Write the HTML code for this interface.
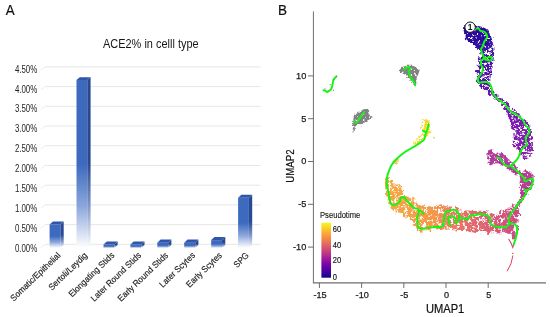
<!DOCTYPE html>
<html><head><meta charset="utf-8"><title>ACE2 figure</title>
<style>
html,body{margin:0;padding:0;background:#fff;}
body{width:550px;height:317px;overflow:hidden;}
svg{display:block;}
text{font-family:"Liberation Sans", Arial, sans-serif;}
</style></head><body>
<svg width="550" height="317" viewBox="0 0 550 317">
<defs>
<linearGradient id="gf" x1="0" y1="0" x2="0" y2="1">
<stop offset="0" stop-color="#3d6abf"/><stop offset="0.5" stop-color="#3d6abf"/>
<stop offset="0.75" stop-color="#8ba6dc"/><stop offset="1" stop-color="#ffffff"/>
</linearGradient>
<linearGradient id="gs" x1="0" y1="0" x2="0" y2="1">
<stop offset="0" stop-color="#294a92"/><stop offset="0.5" stop-color="#294a92"/>
<stop offset="0.75" stop-color="#7d95c8"/><stop offset="1" stop-color="#ffffff"/>
</linearGradient>
<linearGradient id="cbar" x1="0" y1="1" x2="0" y2="0"><stop offset="0.0" stop-color="#0d0887"/><stop offset="0.1" stop-color="#41049d"/><stop offset="0.2" stop-color="#6a00a8"/><stop offset="0.3" stop-color="#8f0da4"/><stop offset="0.4" stop-color="#b12a90"/><stop offset="0.5" stop-color="#cc4778"/><stop offset="0.6" stop-color="#e16462"/><stop offset="0.7" stop-color="#f2844b"/><stop offset="0.8" stop-color="#fca636"/><stop offset="0.9" stop-color="#fcce25"/><stop offset="1.0" stop-color="#f0f921"/></linearGradient>
<linearGradient id="band" gradientUnits="userSpaceOnUse" x1="385" y1="0" x2="525" y2="0">
<stop offset="0.000" stop-color="#f7a535"/><stop offset="0.179" stop-color="#f59a3c"/><stop offset="0.364" stop-color="#f2903f"/><stop offset="0.436" stop-color="#ec7d55"/><stop offset="0.536" stop-color="#e76b5d"/><stop offset="0.679" stop-color="#df5d68"/><stop offset="0.821" stop-color="#d24e74"/><stop offset="0.929" stop-color="#c8447c"/><stop offset="1.000" stop-color="#c0407f"/>
</linearGradient>
<linearGradient id="arm" gradientUnits="userSpaceOnUse" x1="0" y1="25" x2="0" y2="160">
<stop offset="0" stop-color="#28089a"/><stop offset="0.2" stop-color="#34089e"/>
<stop offset="0.4" stop-color="#4a08a6"/><stop offset="0.6" stop-color="#6a0cac"/>
<stop offset="0.85" stop-color="#7a12aa"/><stop offset="1" stop-color="#8a18a4"/>
</linearGradient>
<filter id="speck" filterUnits="userSpaceOnUse" x="340" y="15" width="210" height="265" color-interpolation-filters="sRGB">
<feTurbulence type="fractalNoise" baseFrequency="0.3" numOctaves="2" seed="3" result="d"/>
<feDisplacementMap in="SourceGraphic" in2="d" scale="4" xChannelSelector="R" yChannelSelector="G" result="disp"/>
<feTurbulence type="fractalNoise" baseFrequency="0.35" numOctaves="3" seed="11" result="n"/>
<feColorMatrix in="n" type="matrix" values="0 0 0 0 0  0 0 0 0 0  0 0 0 0 0  9 0 0 0 -2.55" result="m"/>
<feComposite in="disp" in2="m" operator="in"/>
</filter>
<filter id="speck3" filterUnits="userSpaceOnUse" x="370" y="150" width="170" height="100" color-interpolation-filters="sRGB">
<feTurbulence type="fractalNoise" baseFrequency="0.3" numOctaves="2" seed="3" result="d"/>
<feDisplacementMap in="SourceGraphic" in2="d" scale="4" xChannelSelector="R" yChannelSelector="G" result="disp"/>
<feTurbulence type="fractalNoise" baseFrequency="0.22" numOctaves="4" seed="41" result="n"/>
<feColorMatrix in="n" type="matrix" values="0 0 0 0 0  0 0 0 0 0  0 0 0 0 0  8 0 0 0 -2.2" result="m"/>
<feComposite in="disp" in2="m" operator="in"/>
</filter>
<filter id="speck2" filterUnits="userSpaceOnUse" x="340" y="15" width="210" height="265" color-interpolation-filters="sRGB">
<feTurbulence type="fractalNoise" baseFrequency="0.3" numOctaves="2" seed="5" result="d"/>
<feDisplacementMap in="SourceGraphic" in2="d" scale="4" xChannelSelector="R" yChannelSelector="G" result="disp"/>
<feTurbulence type="fractalNoise" baseFrequency="0.4" numOctaves="3" seed="23" result="n"/>
<feColorMatrix in="n" type="matrix" values="0 0 0 0 0  0 0 0 0 0  0 0 0 0 0  9 0 0 0 -3.1" result="m"/>
<feComposite in="disp" in2="m" operator="in"/>
</filter>
</defs>

<text x="5.7" y="14.9" font-size="15.3" fill="#111" stroke="#111" stroke-width="0.2" textLength="8.9" lengthAdjust="spacingAndGlyphs">A</text>
<text x="103" y="47.9" font-size="12.2" fill="#161616" textLength="95.6" lengthAdjust="spacingAndGlyphs">ACE2% in celll type</text>
<line x1="40.8" y1="70.1" x2="45.2" y2="66.9" stroke="#e8e8e8" stroke-width="0.8"/>
<line x1="45.2" y1="66.9" x2="260.5" y2="66.9" stroke="#e4e4e4" stroke-width="0.9"/>
<text x="37.3" y="72.5" font-size="10.0" fill="#1e1e1e" text-anchor="end" textLength="22.4" lengthAdjust="spacingAndGlyphs">4.50%</text>
<line x1="40.8" y1="89.8" x2="45.2" y2="86.6" stroke="#e8e8e8" stroke-width="0.8"/>
<line x1="45.2" y1="86.6" x2="260.5" y2="86.6" stroke="#e4e4e4" stroke-width="0.9"/>
<text x="37.3" y="92.5" font-size="10.0" fill="#1e1e1e" text-anchor="end" textLength="22.4" lengthAdjust="spacingAndGlyphs">4.00%</text>
<line x1="40.8" y1="109.5" x2="45.2" y2="106.3" stroke="#e8e8e8" stroke-width="0.8"/>
<line x1="45.2" y1="106.3" x2="260.5" y2="106.3" stroke="#e4e4e4" stroke-width="0.9"/>
<text x="37.3" y="112.4" font-size="10.0" fill="#1e1e1e" text-anchor="end" textLength="22.4" lengthAdjust="spacingAndGlyphs">3.50%</text>
<line x1="40.8" y1="129.2" x2="45.2" y2="126.0" stroke="#e8e8e8" stroke-width="0.8"/>
<line x1="45.2" y1="126.0" x2="260.5" y2="126.0" stroke="#e4e4e4" stroke-width="0.9"/>
<text x="37.3" y="132.4" font-size="10.0" fill="#1e1e1e" text-anchor="end" textLength="22.4" lengthAdjust="spacingAndGlyphs">3.00%</text>
<line x1="40.8" y1="148.9" x2="45.2" y2="145.7" stroke="#e8e8e8" stroke-width="0.8"/>
<line x1="45.2" y1="145.7" x2="260.5" y2="145.7" stroke="#e4e4e4" stroke-width="0.9"/>
<text x="37.3" y="152.4" font-size="10.0" fill="#1e1e1e" text-anchor="end" textLength="22.4" lengthAdjust="spacingAndGlyphs">2.50%</text>
<line x1="40.8" y1="168.7" x2="45.2" y2="165.5" stroke="#e8e8e8" stroke-width="0.8"/>
<line x1="45.2" y1="165.5" x2="260.5" y2="165.5" stroke="#e4e4e4" stroke-width="0.9"/>
<text x="37.3" y="172.4" font-size="10.0" fill="#1e1e1e" text-anchor="end" textLength="22.4" lengthAdjust="spacingAndGlyphs">2.00%</text>
<line x1="40.8" y1="188.4" x2="45.2" y2="185.2" stroke="#e8e8e8" stroke-width="0.8"/>
<line x1="45.2" y1="185.2" x2="260.5" y2="185.2" stroke="#e4e4e4" stroke-width="0.9"/>
<text x="37.3" y="192.3" font-size="10.0" fill="#1e1e1e" text-anchor="end" textLength="22.4" lengthAdjust="spacingAndGlyphs">1.50%</text>
<line x1="40.8" y1="208.1" x2="45.2" y2="204.9" stroke="#e8e8e8" stroke-width="0.8"/>
<line x1="45.2" y1="204.9" x2="260.5" y2="204.9" stroke="#e4e4e4" stroke-width="0.9"/>
<text x="37.3" y="212.3" font-size="10.0" fill="#1e1e1e" text-anchor="end" textLength="22.4" lengthAdjust="spacingAndGlyphs">1.00%</text>
<line x1="40.8" y1="227.8" x2="45.2" y2="224.6" stroke="#e8e8e8" stroke-width="0.8"/>
<line x1="45.2" y1="224.6" x2="260.5" y2="224.6" stroke="#e4e4e4" stroke-width="0.9"/>
<text x="37.3" y="232.3" font-size="10.0" fill="#1e1e1e" text-anchor="end" textLength="22.4" lengthAdjust="spacingAndGlyphs">0.50%</text>
<line x1="40.8" y1="247.5" x2="45.2" y2="244.3" stroke="#e8e8e8" stroke-width="0.8"/>
<line x1="45.2" y1="244.3" x2="260.5" y2="244.3" stroke="#e4e4e4" stroke-width="0.9"/>
<text x="37.3" y="252.2" font-size="10.0" fill="#1e1e1e" text-anchor="end" textLength="22.4" lengthAdjust="spacingAndGlyphs">0.00%</text>
<rect x="49.6" y="224.5" width="10.8" height="23.5" fill="url(#gf)"/>
<polygon points="60.4,224.5 63.7,221.5 63.7,245.0 60.4,248.0" fill="url(#gs)"/>
<polygon points="49.6,224.5 52.9,221.5 63.7,221.5 60.4,224.5" fill="#2f56a8"/>
<rect x="76.5" y="79.9" width="10.8" height="168.1" fill="url(#gf)"/>
<polygon points="87.3,79.9 90.6,77.3 90.6,245.4 87.3,248.0" fill="url(#gs)"/>
<polygon points="76.5,79.9 79.8,77.3 90.6,77.3 87.3,79.9" fill="#2f56a8"/>
<rect x="103.5" y="244.5" width="10.8" height="3.5" fill="url(#gf)"/>
<polygon points="114.3,244.5 117.6,241.4 117.6,244.9 114.3,248.0" fill="url(#gs)"/>
<polygon points="103.5,244.5 106.8,241.4 117.6,241.4 114.3,244.5" fill="#2f56a8"/>
<rect x="130.4" y="244.5" width="10.8" height="3.5" fill="url(#gf)"/>
<polygon points="141.2,244.5 144.5,241.4 144.5,244.9 141.2,248.0" fill="url(#gs)"/>
<polygon points="130.4,244.5 133.7,241.4 144.5,241.4 141.2,244.5" fill="#2f56a8"/>
<rect x="157.3" y="242.7" width="10.8" height="5.3" fill="url(#gf)"/>
<polygon points="168.1,242.7 171.4,239.6 171.4,244.9 168.1,248.0" fill="url(#gs)"/>
<polygon points="157.3,242.7 160.6,239.6 171.4,239.6 168.1,242.7" fill="#2f56a8"/>
<rect x="184.2" y="242.7" width="10.8" height="5.3" fill="url(#gf)"/>
<polygon points="195.1,242.7 198.4,239.6 198.4,244.9 195.1,248.0" fill="url(#gs)"/>
<polygon points="184.2,242.7 187.6,239.6 198.4,239.6 195.1,242.7" fill="#2f56a8"/>
<rect x="211.2" y="240.1" width="10.8" height="7.9" fill="url(#gf)"/>
<polygon points="222.0,240.1 225.3,237.0 225.3,244.9 222.0,248.0" fill="url(#gs)"/>
<polygon points="211.2,240.1 214.5,237.0 225.3,237.0 222.0,240.1" fill="#2f56a8"/>
<rect x="238.1" y="197.7" width="10.8" height="50.3" fill="url(#gf)"/>
<polygon points="248.9,197.7 252.2,194.7 252.2,245.0 248.9,248.0" fill="url(#gs)"/>
<polygon points="238.1,197.7 241.4,194.7 252.2,194.7 248.9,197.7" fill="#2f56a8"/>
<text x="0" y="0" font-size="8.8" fill="#1a1a1a" stroke="#1a1a1a" stroke-width="0.15" text-anchor="end" transform="translate(61.0,256.0) rotate(-44) scale(0.94,1)">Somatic/Epithelial</text>
<text x="0" y="0" font-size="8.8" fill="#1a1a1a" stroke="#1a1a1a" stroke-width="0.15" text-anchor="end" transform="translate(87.9,256.0) rotate(-44) scale(0.94,1)">Sertoli/Leydig</text>
<text x="0" y="0" font-size="8.8" fill="#1a1a1a" stroke="#1a1a1a" stroke-width="0.15" text-anchor="end" transform="translate(114.9,256.0) rotate(-44) scale(0.94,1)">Elongating Stids</text>
<text x="0" y="0" font-size="8.8" fill="#1a1a1a" stroke="#1a1a1a" stroke-width="0.15" text-anchor="end" transform="translate(141.8,256.0) rotate(-44) scale(0.94,1)">Later Round Stids</text>
<text x="0" y="0" font-size="8.8" fill="#1a1a1a" stroke="#1a1a1a" stroke-width="0.15" text-anchor="end" transform="translate(168.7,256.0) rotate(-44) scale(0.94,1)">Early Round Stids</text>
<text x="0" y="0" font-size="8.8" fill="#1a1a1a" stroke="#1a1a1a" stroke-width="0.15" text-anchor="end" transform="translate(195.7,256.0) rotate(-44) scale(0.94,1)">Later Scytes</text>
<text x="0" y="0" font-size="8.8" fill="#1a1a1a" stroke="#1a1a1a" stroke-width="0.15" text-anchor="end" transform="translate(222.6,256.0) rotate(-44) scale(0.94,1)">Early Scytes</text>
<text x="0" y="0" font-size="8.8" fill="#1a1a1a" stroke="#1a1a1a" stroke-width="0.15" text-anchor="end" transform="translate(249.5,256.0) rotate(-44) scale(0.94,1)">SPG</text>
<text x="277.9" y="14.9" font-size="15.3" fill="#111" stroke="#111" stroke-width="0.2" textLength="9.0" lengthAdjust="spacingAndGlyphs">B</text>
<line x1="313.4" y1="11.4" x2="313.4" y2="282.9" stroke="#6e6e6e" stroke-width="1"/>
<line x1="312.9" y1="282.9" x2="546" y2="282.9" stroke="#6e6e6e" stroke-width="1.1"/>
<line x1="308" y1="75.9" x2="313.4" y2="75.9" stroke="#6e6e6e" stroke-width="1"/>
<text x="306.3" y="78.8" font-size="9.2" fill="#1a1a1a" text-anchor="end" stroke="#1a1a1a" stroke-width="0.25">10</text>
<line x1="308" y1="118.7" x2="313.4" y2="118.7" stroke="#6e6e6e" stroke-width="1"/>
<text x="306.3" y="121.6" font-size="9.2" fill="#1a1a1a" text-anchor="end" stroke="#1a1a1a" stroke-width="0.25">5</text>
<line x1="308" y1="161.5" x2="313.4" y2="161.5" stroke="#6e6e6e" stroke-width="1"/>
<text x="306.3" y="164.4" font-size="9.2" fill="#1a1a1a" text-anchor="end" stroke="#1a1a1a" stroke-width="0.25">0</text>
<line x1="308" y1="204.3" x2="313.4" y2="204.3" stroke="#6e6e6e" stroke-width="1"/>
<text x="306.3" y="207.2" font-size="9.2" fill="#1a1a1a" text-anchor="end" stroke="#1a1a1a" stroke-width="0.25">-5</text>
<line x1="308" y1="247.1" x2="313.4" y2="247.1" stroke="#6e6e6e" stroke-width="1"/>
<text x="306.3" y="250.0" font-size="9.2" fill="#1a1a1a" text-anchor="end" stroke="#1a1a1a" stroke-width="0.25">-10</text>
<line x1="319.4" y1="282.9" x2="319.4" y2="288" stroke="#6e6e6e" stroke-width="1"/>
<text x="320.0" y="298" font-size="9.1" fill="#1a1a1a" text-anchor="middle" stroke="#1a1a1a" stroke-width="0.25">-15</text>
<line x1="361.6" y1="282.9" x2="361.6" y2="288" stroke="#6e6e6e" stroke-width="1"/>
<text x="362.2" y="298" font-size="9.1" fill="#1a1a1a" text-anchor="middle" stroke="#1a1a1a" stroke-width="0.25">-10</text>
<line x1="403.8" y1="282.9" x2="403.8" y2="288" stroke="#6e6e6e" stroke-width="1"/>
<text x="404.4" y="298" font-size="9.1" fill="#1a1a1a" text-anchor="middle" stroke="#1a1a1a" stroke-width="0.25">-5</text>
<line x1="446.0" y1="282.9" x2="446.0" y2="288" stroke="#6e6e6e" stroke-width="1"/>
<text x="446.6" y="298" font-size="9.1" fill="#1a1a1a" text-anchor="middle" stroke="#1a1a1a" stroke-width="0.25">0</text>
<line x1="488.2" y1="282.9" x2="488.2" y2="288" stroke="#6e6e6e" stroke-width="1"/>
<text x="488.8" y="298" font-size="9.1" fill="#1a1a1a" text-anchor="middle" stroke="#1a1a1a" stroke-width="0.25">5</text>
<text x="425.9" y="312.6" font-size="11.9" fill="#111" textLength="38.4" lengthAdjust="spacingAndGlyphs" stroke="#111" stroke-width="0.2">UMAP1</text>
<text x="-16.6" y="0" font-size="10.8" fill="#111" textLength="33.3" lengthAdjust="spacingAndGlyphs" stroke="#111" stroke-width="0.2" transform="translate(294.1,166.2) rotate(-90)">UMAP2</text>
<text x="320" y="217.8" font-size="8.3" fill="#1a1a1a" textLength="40.3" lengthAdjust="spacingAndGlyphs" stroke="#1a1a1a" stroke-width="0.15">Pseudotime</text>
<rect x="321.4" y="222.7" width="9.6" height="55" fill="url(#cbar)"/>
<text x="332.7" y="232.2" font-size="8.9" fill="#1a1a1a" textLength="8.4" lengthAdjust="spacingAndGlyphs" stroke="#1a1a1a" stroke-width="0.2">60</text>
<text x="332.7" y="247.8" font-size="8.9" fill="#1a1a1a" textLength="8.4" lengthAdjust="spacingAndGlyphs" stroke="#1a1a1a" stroke-width="0.2">40</text>
<text x="332.7" y="263.2" font-size="8.9" fill="#1a1a1a" textLength="8.4" lengthAdjust="spacingAndGlyphs" stroke="#1a1a1a" stroke-width="0.2">20</text>
<text x="332.7" y="279.6" font-size="8.9" fill="#1a1a1a" textLength="4.2" lengthAdjust="spacingAndGlyphs" stroke="#1a1a1a" stroke-width="0.2">0</text>
<g filter="url(#speck)">
<polygon points="466.0,25.5 463.7,29.2 464.5,34.0 466.0,38.7 469.2,41.8 474.0,44.2 477.0,48.0 479.4,52.8 479.5,57.0 478.5,61.0 477.3,67.9 476.5,75.8 477.0,83.7 480.8,87.6 487.0,91.5 491.8,96.3 495.0,99.0 499.7,102.9 504.5,109.2 507.6,115.5 510.8,123.4 513.0,131.3 514.0,139.2 513.0,147.0 519.0,151.0 522.0,157.0 527.0,159.5 531.0,156.0 533.0,150.0 532.9,145.0 532.9,139.2 532.0,132.9 529.0,125.0 525.0,118.7 518.7,113.9 510.8,107.6 504.4,99.4 498.0,96.3 494.2,91.5 491.0,85.2 490.2,79.0 491.0,74.2 492.6,66.3 493.4,60.0 495.0,56.8 493.6,51.3 492.9,43.4 491.3,37.0 488.0,30.8 484.2,27.6 478.7,26.0 475.5,25.3" fill="url(#arm)" fill-opacity="0.95" filter="url(#speck2)"/>
<polygon points="466.0,25.5 463.7,29.2 464.5,34.0 466.0,38.7 469.2,41.8 474.0,44.2 477.0,48.0 483.0,47.0 489.0,44.0 491.0,37.0 488.0,30.8 484.2,27.6 478.7,26.0 475.5,25.3" fill="#2a0a9c" fill-opacity="0.95"/>
<polygon points="488.1,150.5 492.0,149.0 493.7,152.9 497.6,153.7 501.5,152.9 504.7,155.2 507.9,158.4 511.0,160.8 514.2,163.0 517.3,169.4 520.0,174.2 517.3,175.7 512.6,172.6 507.9,169.4 503.9,166.3 500.0,164.0 495.2,163.0 490.5,165.5 488.1,161.5 487.3,156.8" fill="#ad2f97" fill-opacity="0.95"/>
<polygon points="519.0,169.5 522.0,172.0 525.0,170.0 529.7,172.0 533.4,175.0 534.0,180.0 532.8,185.0 531.0,190.0 527.8,193.3 525.0,195.2 523.3,197.0 521.5,200.3 520.2,203.4 518.5,205.0 519.5,199.0 521.0,195.0 520.2,189.0 519.6,183.9 520.2,177.6 518.0,173.0" fill="#b2318f" fill-opacity="0.95"/>
<polygon points="385.2,178.0 388.0,177.0 390.8,180.8 393.7,184.6 396.5,184.6 399.4,183.7 401.3,186.5 402.2,192.2 407.9,197.0 413.6,199.8 419.0,205.0 425.2,205.8 431.5,206.6 436.3,205.0 441.0,204.2 447.3,205.8 451.0,207.0 462.7,210.0 474.0,211.0 480.0,210.8 486.3,211.6 492.6,214.0 499.0,212.4 503.7,210.0 507.6,208.4 511.5,206.0 516.3,204.5 518.5,201.3 521.5,196.6 524.5,195.5 523.5,199.0 520.5,204.0 519.4,209.2 518.6,218.7 517.9,226.5 516.3,234.4 514.7,240.7 513.5,243.0 511.5,234.4 506.8,232.9 502.0,232.9 495.8,233.6 489.5,232.9 483.2,232.0 474.0,232.6 462.7,231.0 451.0,230.0 444.2,229.4 437.9,229.4 431.5,230.2 425.2,230.2 417.4,231.0 415.8,226.3 412.6,221.5 407.9,218.4 403.2,216.8 400.3,213.0 394.6,212.0 390.8,208.3 388.0,201.7 386.1,194.0 384.8,186.5" fill="url(#band)" fill-opacity="0.95" filter="url(#speck3)"/>
<polygon points="422.0,120.0 426.0,118.0 430.0,122.0 431.0,130.0 429.0,136.0 424.0,140.0 419.0,145.0 414.0,146.0 413.0,143.0 418.0,138.0 422.0,133.0 421.0,127.0" fill="#f2d414" fill-opacity="0.9" filter="url(#speck2)"/>
<polygon points="393.0,161.0 399.0,159.0 398.0,164.0 393.0,165.0" fill="#f5b535" fill-opacity="0.8"/>
<polygon points="399.5,70.0 402.0,67.0 406.4,65.7 412.7,65.7 417.0,67.6 419.7,70.0 418.4,74.0 417.0,77.0 416.5,80.2 415.9,86.5 412.7,82.0 409.0,77.7 404.0,74.0 400.0,72.0" fill="#828282"/>
<polygon points="353.3,120.2 353.9,115.2 357.7,112.0 362.0,110.0 366.5,108.2 368.4,109.5 369.0,112.6 370.3,115.8 372.8,118.3 370.3,119.0 367.8,120.2 365.2,122.0 362.7,124.6 360.2,125.2 357.7,124.0 355.0,127.0 354.5,131.5 352.6,132.8" fill="#828282"/>
</g>
<circle cx="434" cy="137.6" r="0.9" fill="#f5c830"/>
<path d="M508.6,239 L511,243 L512.8,247.5 L514,244" fill="none" stroke="#d8407a" stroke-width="1.1"/>
<circle cx="512.8" cy="253.5" r="0.7" fill="#e0405a"/>
<path d="M512.9,255.5 Q512,264 507.1,271.3" fill="none" stroke="#e2405a" stroke-width="1.0"/>
<polyline points="470.1,27.2 475.5,28.4 478.7,28.4 480.2,30.8 484.2,31.6 486.5,34.0 487.3,37.0 485.8,39.4 484.2,41.8 482.6,46.5 481.0,49.0 481.8,52.8 483.4,56.0 485.0,59.5 489.7,60.7 492.0,59.2 491.3,56.8 487.3,57.6 484.2,58.4 481.0,60.7 481.0,65.0 483.0,68.0 482.3,71.8 480.8,74.2 478.4,77.4 477.6,80.5 479.2,82.9 482.3,82.0 487.0,82.0 490.2,84.4 491.8,88.4 492.6,93.0 495.0,96.3 498.2,99.7 502.0,102.0 505.3,104.5 508.4,109.2 511.6,112.4 515.5,114.0 518.7,116.3 522.6,119.4 525.0,124.2 526.5,126.5 529.0,128.0 529.7,132.0 528.0,134.4 525.8,136.8 525.8,140.7 527.0,145.0 524.0,147.0 521.5,150.0 519.6,154.0 518.3,157.7 516.4,160.2 513.9,162.7 511.4,165.2 508.8,166.5 505.0,165.2 502.0,161.5 500.0,158.3 497.0,157.6" fill="none" stroke="#14f514" stroke-width="1.95" stroke-linejoin="round" stroke-linecap="round"/>
<polyline points="511.4,165.2 512.6,167.8 516.4,170.3 519.0,173.0 522.0,175.7 524.6,178.2 524.0,180.7 525.9,181.4 529.0,179.5 532.2,178.8 533.4,180.0 532.2,183.9 531.0,187.7 529.0,189.6 526.5,190.2 524.6,189.6 526.5,192.0 525.9,194.0 524.0,197.0 522.0,200.3 519.4,201.3 517.0,206.0 514.7,208.4 513.1,210.8 510.8,214.0 508.4,218.7 509.2,224.0" fill="none" stroke="#14f514" stroke-width="1.95" stroke-linejoin="round" stroke-linecap="round"/>
<polyline points="509.2,223.0 514.7,224.2 517.0,226.5 517.0,232.9 515.5,239.2 513.6,244.5" fill="none" stroke="#14f514" stroke-width="1.95" stroke-linejoin="round" stroke-linecap="round"/>
<polyline points="509.2,224.0 506.0,227.3 500.5,227.3 494.2,226.5 490.3,223.4 489.5,217.0 486.3,214.7 480.0,214.0 474.0,215.6 471.4,215.2 469.3,216.2 467.3,219.7 465.3,218.7 462.3,218.2 459.2,217.2" fill="none" stroke="#14f514" stroke-width="1.95" stroke-linejoin="round" stroke-linecap="round"/>
<polyline points="450.7,225.3 449.1,222.7 448.1,219.7 449.1,217.2 451.2,216.2 453.7,216.7 455.2,218.2 455.7,220.7 456.2,222.7 457.7,222.2 458.7,220.2 459.2,216.2 458.2,213.1 456.2,210.6 453.7,209.6 451.2,210.1 449.1,211.6 447.1,211.1 445.6,212.1 444.6,215.2 444.0,220.2 443.0,225.8 441.0,227.3 438.0,226.8 434.7,227.0 428.4,227.9 422.0,228.7 418.1,227.9 417.4,221.5 417.4,216.8 418.9,212.0 418.1,208.9 414.2,208.1 411.0,205.0 407.0,201.0 404.0,197.0 400.3,198.0 400.3,200.7 397.5,203.6 393.7,205.5 390.8,203.6 389.9,200.7 389.0,196.0 388.0,190.3 386.7,184.6 386.7,179.0 388.0,173.3 390.5,167.0 393.5,162.0 397.0,158.5 401.0,155.0 405.0,151.9 410.0,149.0 415.0,146.2 419.7,143.0 424.0,139.8 425.3,135.4 426.4,132.0 427.5,128.8 428.6,124.3" fill="none" stroke="#14f514" stroke-width="1.95" stroke-linejoin="round" stroke-linecap="round"/>
<polyline points="418.9,211.0 420.5,211.3 423.7,213.7" fill="none" stroke="#14f514" stroke-width="1.95" stroke-linejoin="round" stroke-linecap="round"/>
<polyline points="426.4,132.0 423.0,131.0" fill="none" stroke="#14f514" stroke-width="1.95" stroke-linejoin="round" stroke-linecap="round"/>
<polyline points="323.5,90.2 325.4,90.7 327.3,92.1 329.2,90.7 331.1,89.3 332.0,86.9 332.8,83.1 333.4,79.8 334.9,77.9 336.3,76.5" fill="none" stroke="#14f514" stroke-width="1.95" stroke-linejoin="round" stroke-linecap="round"/>
<polyline points="403.9,69.5 406.4,67.6 409.0,67.0 410.0,68.2 409.0,71.4 409.6,75.2 410.8,77.7 412.7,80.2 415.2,85.3" fill="none" stroke="#14f514" stroke-width="1.95" stroke-linejoin="round" stroke-linecap="round"/>
<polyline points="353.9,122.0 355.8,122.7 357.7,121.5 360.2,117.7 362.0,114.5 364.0,112.0" fill="none" stroke="#14f514" stroke-width="1.95" stroke-linejoin="round" stroke-linecap="round"/>
<circle cx="336.6" cy="76.1" r="0.6" fill="#777"/>
<circle cx="333.9" cy="79.8" r="0.6" fill="#777"/>
<circle cx="330.2" cy="84.5" r="0.6" fill="#777"/>
<circle cx="333.4" cy="90.2" r="0.6" fill="#777"/>
<circle cx="325" cy="88.8" r="0.6" fill="#777"/>
<circle cx="470.1" cy="27.2" r="5.2" fill="#fff" stroke="#111" stroke-width="1.0"/>
<text x="470.2" y="30.3" font-size="8.4" font-weight="bold" fill="#111" text-anchor="middle">1</text>
</svg></body></html>
